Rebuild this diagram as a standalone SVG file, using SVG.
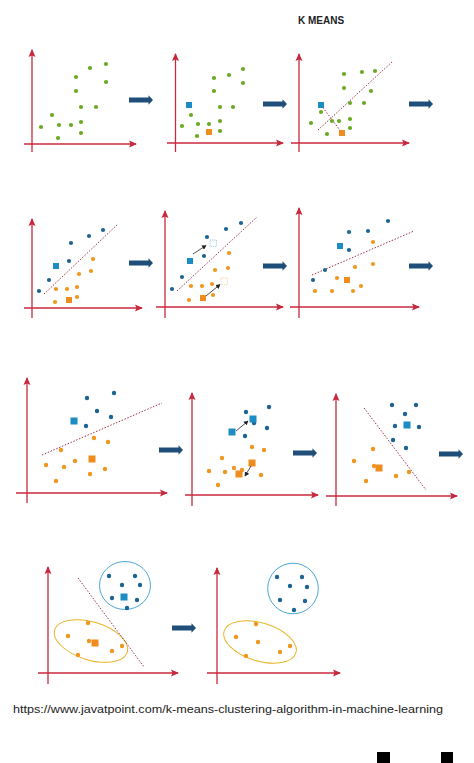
<svg xmlns="http://www.w3.org/2000/svg" width="474" height="763" viewBox="0 0 474 763">
<style>
.ax{stroke:#c8283c;stroke-width:1.3;fill:none}
.g{fill:#6aaa22}
.b{fill:#1b6494}
.o{fill:#f0961e}
.bs{fill:#1c8cc4}
.os{fill:#f08c1e}
.dl{stroke:#a03048;stroke-width:1;stroke-dasharray:1.5 1.6;fill:none}
.ba{fill:#1f4e79}
.k{stroke:#222;stroke-width:0.8;fill:none}
text{font-family:"Liberation Sans",Arial,sans-serif;fill:#222}
</style>
<defs>
<marker id="ah" markerUnits="userSpaceOnUse" markerWidth="9" markerHeight="8" refX="7" refY="4" orient="auto"><path d="M0,0.5 L8,4 L0,7.5 L1.5,4 Z" fill="#c8283c"/></marker>
<marker id="kh" markerUnits="userSpaceOnUse" markerWidth="5" markerHeight="5" refX="4" refY="2.5" orient="auto"><path d="M0,0 L4.5,2.5 L0,5 Z" fill="#222"/></marker>
<path id="bar" class="ba" d="M0,-2.6 H19.5 V-4.7 L24,0 L19.5,4.7 V2.6 H0 Z"/>
</defs>
<rect width="474" height="763" fill="#fff"/>
<text x="298" y="24" font-size="10" font-weight="bold">K MEANS</text>

<g id="panel1">
<line class="ax" x1="32" y1="152" x2="32" y2="50" marker-end="url(#ah)"/>
<line class="ax" x1="24" y1="144" x2="136" y2="144" marker-end="url(#ah)"/>
<g class="g"><circle cx="106" cy="64" r="2.1"/><circle cx="90" cy="68" r="2.1"/><circle cx="76" cy="77" r="2.1"/><circle cx="106" cy="82" r="2.1"/><circle cx="76" cy="91" r="2.1"/><circle cx="81" cy="107" r="2.1"/><circle cx="96" cy="107" r="2.1"/><circle cx="52" cy="115" r="2.1"/><circle cx="41" cy="127" r="2.1"/><circle cx="59" cy="125" r="2.1"/><circle cx="71" cy="125" r="2.1"/><circle cx="81" cy="122" r="2.1"/><circle cx="81" cy="133" r="2.1"/><circle cx="58" cy="138" r="2.1"/></g>
</g>

<g id="panel2">
<line class="ax" x1="175.5" y1="152" x2="175.5" y2="54" marker-end="url(#ah)"/>
<line class="ax" x1="167" y1="143" x2="283" y2="143" marker-end="url(#ah)"/>
<g class="g"><circle cx="243" cy="69" r="2.1"/><circle cx="229" cy="75" r="2.1"/><circle cx="214" cy="78" r="2.1"/><circle cx="243" cy="83" r="2.1"/><circle cx="214" cy="91" r="2.1"/><circle cx="220" cy="107" r="2.1"/><circle cx="233" cy="107" r="2.1"/><circle cx="191" cy="115" r="2.1"/><circle cx="182" cy="126" r="2.1"/><circle cx="198" cy="124" r="2.1"/><circle cx="209" cy="124" r="2.1"/><circle cx="220" cy="121" r="2.1"/><circle cx="220" cy="131" r="2.1"/><circle cx="197" cy="136" r="2.1"/></g>
<rect class="bs" x="186" y="102" width="6" height="6"/>
<rect class="os" x="206" y="129" width="6" height="6"/>
</g>

<g id="panel3">
<line class="ax" x1="299" y1="152" x2="299" y2="54" marker-end="url(#ah)"/>
<line class="ax" x1="291" y1="143" x2="409" y2="143" marker-end="url(#ah)"/>
<line class="dl" x1="318" y1="130" x2="393" y2="61"/>
<line class="dl" x1="321" y1="105" x2="342" y2="133"/>
<g class="g"><circle cx="344" cy="74" r="2.1"/><circle cx="362" cy="72" r="2.1"/><circle cx="375" cy="71" r="2.1"/><circle cx="344" cy="88" r="2.1"/><circle cx="371" cy="91" r="2.1"/><circle cx="350" cy="103" r="2.1"/><circle cx="364" cy="103" r="2.1"/><circle cx="321" cy="112" r="2.1"/><circle cx="311" cy="123" r="2.1"/><circle cx="332" cy="121" r="2.1"/><circle cx="339" cy="121" r="2.1"/><circle cx="350" cy="119" r="2.1"/><circle cx="350" cy="128" r="2.1"/><circle cx="327" cy="134" r="2.1"/></g>
<rect class="bs" x="318" y="102" width="6" height="6"/>
<rect class="os" x="339" y="130" width="6" height="6"/>
</g>

<g id="panel4">
<line class="ax" x1="32" y1="318" x2="32" y2="219" marker-end="url(#ah)"/>
<line class="ax" x1="24" y1="308" x2="142" y2="308" marker-end="url(#ah)"/>
<line class="dl" x1="44" y1="294" x2="118" y2="224"/>
<g class="b"><circle cx="103" cy="230" r="2.1"/><circle cx="89" cy="236" r="2.1"/><circle cx="71" cy="243" r="2.1"/><circle cx="69" cy="261" r="2.1"/><circle cx="49" cy="280" r="2.1"/><circle cx="39" cy="291" r="2.1"/></g>
<rect class="bs" x="53" y="263" width="6" height="6"/>
<g class="o"><circle cx="93" cy="259" r="2.1"/><circle cx="91" cy="271" r="2.1"/><circle cx="79" cy="274" r="2.1"/><circle cx="77" cy="287" r="2.1"/><circle cx="67" cy="289" r="2.1"/><circle cx="56" cy="289" r="2.1"/><circle cx="77" cy="297" r="2.1"/><circle cx="55" cy="302" r="2.1"/></g>
<rect class="os" x="66" y="297" width="6" height="6"/>
</g>

<g id="panel5">
<line class="ax" x1="165" y1="318" x2="165" y2="211" marker-end="url(#ah)"/>
<line class="ax" x1="156" y1="307" x2="283" y2="307" marker-end="url(#ah)"/>
<line class="dl" x1="177" y1="291" x2="257" y2="217"/>
<g class="b"><circle cx="241" cy="223" r="2.1"/><circle cx="226" cy="229" r="2.1"/><circle cx="207" cy="237" r="2.1"/><circle cx="204" cy="256" r="2.1"/><circle cx="182" cy="277" r="2.1"/><circle cx="172" cy="289" r="2.1"/></g>
<rect class="bs" x="187" y="258" width="6" height="6"/>
<rect x="210" y="240" width="6.5" height="6.5" fill="none" stroke="#8cc0dc" stroke-width="0.8" stroke-dasharray="1.2 1"/>
<line class="k" x1="193" y1="254" x2="206" y2="245.5" marker-end="url(#kh)"/>
<g class="o"><circle cx="229" cy="253" r="2.1"/><circle cx="228" cy="268" r="2.1"/><circle cx="215" cy="270" r="2.1"/><circle cx="212" cy="284" r="2.1"/><circle cx="202" cy="286" r="2.1"/><circle cx="191" cy="286" r="2.1"/><circle cx="213" cy="295" r="2.1"/><circle cx="189" cy="300" r="2.1"/></g>
<rect class="os" x="200" y="295" width="6" height="6"/>
<rect x="221" y="278" width="6.5" height="6.5" fill="none" stroke="#f2c890" stroke-width="0.8" stroke-dasharray="1.2 1"/>
<line class="k" x1="206" y1="296" x2="220" y2="284.5" marker-end="url(#kh)"/>
</g>

<g id="panel6">
<line class="ax" x1="299" y1="318" x2="299" y2="208" marker-end="url(#ah)"/>
<line class="ax" x1="290" y1="307" x2="419" y2="307" marker-end="url(#ah)"/>
<line class="dl" x1="312" y1="275" x2="414" y2="231"/>
<g class="b"><circle cx="388" cy="221" r="2.1"/><circle cx="368" cy="231" r="2.1"/><circle cx="349" cy="232" r="2.1"/><circle cx="349" cy="250" r="2.1"/><circle cx="325" cy="270" r="2.1"/><circle cx="313" cy="280" r="2.1"/></g>
<rect class="bs" x="337" y="243" width="6" height="6"/>
<g class="o"><circle cx="373" cy="242" r="2.1"/><circle cx="373" cy="264" r="2.1"/><circle cx="355" cy="267" r="2.1"/><circle cx="337" cy="278" r="2.1"/><circle cx="361" cy="286" r="2.1"/><circle cx="353" cy="291" r="2.1"/><circle cx="332" cy="291" r="2.1"/><circle cx="315" cy="291" r="2.1"/></g>
<rect class="os" x="344" y="277" width="6" height="6"/>
</g>

<g id="panel7">
<line class="ax" x1="27" y1="503" x2="27" y2="378" marker-end="url(#ah)"/>
<line class="ax" x1="16" y1="493" x2="167" y2="493" marker-end="url(#ah)"/>
<line class="dl" x1="42" y1="455" x2="162" y2="403"/>
<g class="b"><circle cx="114" cy="393" r="2.2"/><circle cx="87" cy="398" r="2.2"/><circle cx="97" cy="411" r="2.2"/><circle cx="111" cy="417" r="2.2"/><circle cx="86" cy="426" r="2.2"/></g>
<rect class="bs" x="70.5" y="417.5" width="7" height="7"/>
<g class="o"><circle cx="94" cy="438" r="2.2"/><circle cx="108" cy="442" r="2.2"/><circle cx="61" cy="450" r="2.2"/><circle cx="46" cy="465" r="2.2"/><circle cx="64" cy="467" r="2.2"/><circle cx="75" cy="461" r="2.2"/><circle cx="90" cy="474" r="2.2"/><circle cx="105" cy="469" r="2.2"/><circle cx="56" cy="481" r="2.2"/></g>
<rect class="os" x="88.5" y="455.5" width="7" height="7"/>
</g>

<g id="panel8">
<line class="ax" x1="192" y1="506" x2="192" y2="393" marker-end="url(#ah)"/>
<line class="ax" x1="185" y1="495" x2="318" y2="495" marker-end="url(#ah)"/>
<g class="b"><circle cx="269" cy="407" r="2.2"/><circle cx="246" cy="412" r="2.2"/><circle cx="254" cy="423" r="2.2"/><circle cx="267" cy="428" r="2.2"/><circle cx="245" cy="436" r="2.2"/></g>
<rect class="bs" x="228.5" y="428.5" width="7" height="7"/>
<rect class="bs" x="249.5" y="415.5" width="7" height="7"/>
<line class="k" x1="236" y1="431" x2="248" y2="421" marker-end="url(#kh)"/>
<g class="o"><circle cx="252" cy="447" r="2.2"/><circle cx="264" cy="450" r="2.2"/><circle cx="222" cy="458" r="2.2"/><circle cx="209" cy="471" r="2.2"/><circle cx="225" cy="472" r="2.2"/><circle cx="234" cy="468" r="2.2"/><circle cx="242" cy="470" r="2.2"/><circle cx="261" cy="475" r="2.2"/><circle cx="218" cy="485" r="2.2"/></g>
<rect class="os" x="235.5" y="470.5" width="7" height="7"/>
<rect class="os" x="248.5" y="459.5" width="7" height="7"/>
<line class="k" x1="251" y1="466" x2="245" y2="476" marker-end="url(#kh)"/>
</g>

<g id="panel9">
<line class="ax" x1="336" y1="506" x2="336" y2="394" marker-end="url(#ah)"/>
<line class="ax" x1="326" y1="496" x2="457" y2="496" marker-end="url(#ah)"/>
<line class="dl" x1="364" y1="408" x2="426" y2="490"/>
<g class="b"><circle cx="392" cy="405" r="2.2"/><circle cx="416" cy="405" r="2.2"/><circle cx="405" cy="414" r="2.2"/><circle cx="395" cy="426" r="2.2"/><circle cx="419" cy="427" r="2.2"/><circle cx="393" cy="440" r="2.2"/><circle cx="406" cy="448" r="2.2"/></g>
<rect class="bs" x="403.5" y="421.5" width="7" height="7"/>
<g class="o"><circle cx="373" cy="449" r="2.2"/><circle cx="354" cy="461" r="2.2"/><circle cx="374" cy="466" r="2.2"/><circle cx="396" cy="476" r="2.2"/><circle cx="409" cy="472" r="2.2"/><circle cx="366" cy="481" r="2.2"/></g>
<rect class="os" x="375.5" y="464.5" width="7" height="7"/>
</g>

<g id="panel10">
<line class="ax" x1="48" y1="684" x2="48" y2="567" marker-end="url(#ah)"/>
<line class="ax" x1="38" y1="673" x2="178" y2="673" marker-end="url(#ah)"/>
<ellipse cx="125" cy="585.5" rx="25.5" ry="24" fill="none" stroke="#4aa8d8" stroke-width="1"/>
<ellipse cx="91" cy="641" rx="38" ry="19" transform="rotate(17 91 641)" fill="none" stroke="#e8b428" stroke-width="1"/>
<line class="dl" x1="78" y1="578" x2="144" y2="667"/>
<g class="b"><circle cx="109" cy="576" r="2.2"/><circle cx="135" cy="576" r="2.2"/><circle cx="122" cy="585" r="2.2"/><circle cx="140" cy="585" r="2.2"/><circle cx="112" cy="598" r="2.2"/><circle cx="137" cy="600" r="2.2"/><circle cx="127" cy="608" r="2.2"/></g>
<rect class="bs" x="120.5" y="593.5" width="7" height="7"/>
<g class="o"><circle cx="88" cy="623" r="2.2"/><circle cx="68" cy="636" r="2.2"/><circle cx="89" cy="641" r="2.2"/><circle cx="112" cy="651" r="2.2"/><circle cx="122" cy="646" r="2.2"/><circle cx="78" cy="655" r="2.2"/></g>
<rect class="os" x="91.5" y="639.5" width="7" height="7"/>
</g>

<g id="panel11">
<line class="ax" x1="217" y1="684" x2="217" y2="568" marker-end="url(#ah)"/>
<line class="ax" x1="207" y1="673" x2="340" y2="673" marker-end="url(#ah)"/>
<circle cx="293" cy="588.5" r="25.3" fill="none" stroke="#4aa8d8" stroke-width="1"/>
<ellipse cx="260" cy="642" rx="37.5" ry="19" transform="rotate(17 260 642)" fill="none" stroke="#e8b428" stroke-width="1"/>
<g class="b"><circle cx="277" cy="577" r="2.2"/><circle cx="302" cy="577" r="2.2"/><circle cx="290" cy="586" r="2.2"/><circle cx="307" cy="587" r="2.2"/><circle cx="280" cy="600" r="2.2"/><circle cx="305" cy="601" r="2.2"/><circle cx="294" cy="610" r="2.2"/></g>
<g class="o"><circle cx="256" cy="624" r="2.2"/><circle cx="236" cy="637" r="2.2"/><circle cx="258" cy="642" r="2.2"/><circle cx="290" cy="646" r="2.2"/><circle cx="280" cy="652" r="2.2"/><circle cx="246" cy="656" r="2.2"/></g>
</g>

<g id="connectors">
<use href="#bar" x="129" y="100"/>
<use href="#bar" x="263" y="104"/>
<use href="#bar" x="409" y="104"/>
<use href="#bar" x="129" y="263"/>
<use href="#bar" x="263" y="266"/>
<use href="#bar" x="409" y="266"/>
<use href="#bar" x="159" y="450"/>
<use href="#bar" x="293" y="453"/>
<use href="#bar" x="439" y="454"/>
<use href="#bar" x="172" y="628"/>
</g>

<text x="13" y="713" font-size="11" textLength="430" lengthAdjust="spacingAndGlyphs">https://www.javatpoint.com/k-means-clustering-algorithm-in-machine-learning</text>
<rect x="377" y="752" width="13" height="11" fill="#000"/>
<rect x="441" y="752" width="12" height="11" fill="#000"/>
</svg>
